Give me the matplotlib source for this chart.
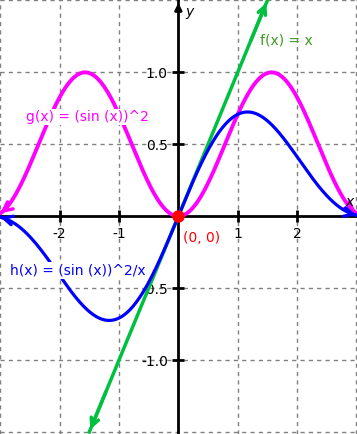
import numpy as np
import matplotlib
matplotlib.use("Agg")
import matplotlib.pyplot as plt

# domain / view
x_view = [-3.005, 3.01]
y_view = [-1.514, 1.503]
grid_x = [-3, -2, -1, 1, 2, 3]
grid_y = [-1.5, -1.0, -0.5, 0.5, 1.0, 1.5]
xticks = [-2, -1, 1, 2]
xtick_labels = ["-2", "-1", "1", "2"]
yticks = [-1.0, -0.5, 0.5, 1.0]
ytick_labels = ["-1.0", "-0.5", "0.5", "1.0"]

# the plotted functions (as given in the chart labels)
x_curve = np.linspace(-3, 3, 601)
x_line = [-1.5, 1.5]
g_vals = np.sin(x_curve) ** 2
h_vals = np.where(x_curve == 0, 0.0, np.sin(x_curve) ** 2 / np.where(x_curve == 0, 1, x_curve))
f_vals = list(x_line)
point = (0, 0)

green = "#00c040"
magenta = "#ff00ff"
blue = "#0000ff"
red = "#ff0000"

fig = plt.figure(figsize=(3.57, 4.34), dpi=100)
ax = fig.add_axes([0, 0, 1, 1])
ax.set_xlim(x_view)
ax.set_ylim(y_view)

# dashed grid
for gx in grid_x:
    ax.axvline(gx, color="#808080", lw=1, ls=(0, (3, 3)), zorder=0)
for gy in grid_y:
    ax.axhline(gy, color="#808080", lw=1, ls=(0, (3, 3)), zorder=0)

# axes through origin
for s in ["top", "right"]:
    ax.spines[s].set_visible(False)
ax.spines["left"].set_position(("data", 0))
ax.spines["bottom"].set_position(("data", 0))
ax.spines["left"].set_linewidth(2)
ax.spines["bottom"].set_linewidth(2)
ax.set_xticks(xticks, xtick_labels)
ax.set_yticks(yticks, ytick_labels)
ax.tick_params(direction="inout", length=9, width=2, labelsize=10, pad=3)
ax.annotate("", xy=(0, y_view[1]), xytext=(0, y_view[1] - 0.1),
            arrowprops=dict(arrowstyle="-|>", color="black", lw=2, mutation_scale=10))

def arrows(xs, ys, color, lw):
    ax.annotate("", xy=(xs[-1], ys[-1]), xytext=(xs[-6], ys[-6]),
                arrowprops=dict(arrowstyle="->", color=color, lw=lw, mutation_scale=16))
    ax.annotate("", xy=(xs[0], ys[0]), xytext=(xs[5], ys[5]),
                arrowprops=dict(arrowstyle="->", color=color, lw=lw, mutation_scale=16))

ax.plot(x_line, f_vals, color=green, lw=2.5, zorder=3)
ax.annotate("", xy=(x_line[1], f_vals[1]), xytext=(1.2, 1.2),
            arrowprops=dict(arrowstyle="->", color=green, lw=2.5, mutation_scale=14))
ax.annotate("", xy=(x_line[0], f_vals[0]), xytext=(-1.2, -1.2),
            arrowprops=dict(arrowstyle="->", color=green, lw=2.5, mutation_scale=14))

ax.plot(x_curve, g_vals, color=magenta, lw=2.8, zorder=3)
arrows(x_curve, g_vals, magenta, 2.5)
ax.plot(x_curve, h_vals, color=blue, lw=2.3, zorder=4)
arrows(x_curve, h_vals, blue, 2.3)

ax.plot(*point, "o", color=red, ms=8, zorder=6)

box = dict(facecolor="white", edgecolor="none", pad=1)
ax.text(-1.53, 0.69, "g(x) = (sin (x))^2", color=magenta, fontsize=10,
        ha="center", va="center", bbox=box, zorder=5)
ax.text(-1.70, -0.375, "h(x) = (sin (x))^2/x", color=blue, fontsize=10,
        ha="center", va="center", bbox=box, zorder=5)
ax.text(1.82, 1.22, "f(x) = x", color="#3c9a1e", fontsize=10,
        ha="center", va="center", zorder=5)
ax.text(0.08, -0.15, "(0, 0)", color=red, fontsize=10, ha="left", va="center", zorder=5)
ax.text(0.12, 1.42, "y", fontsize=10, style="italic", ha="left", va="center")
ax.text(2.82, 0.1, "x", fontsize=10, style="italic", ha="left", va="center")

fig.savefig("out.png", dpi=100)
